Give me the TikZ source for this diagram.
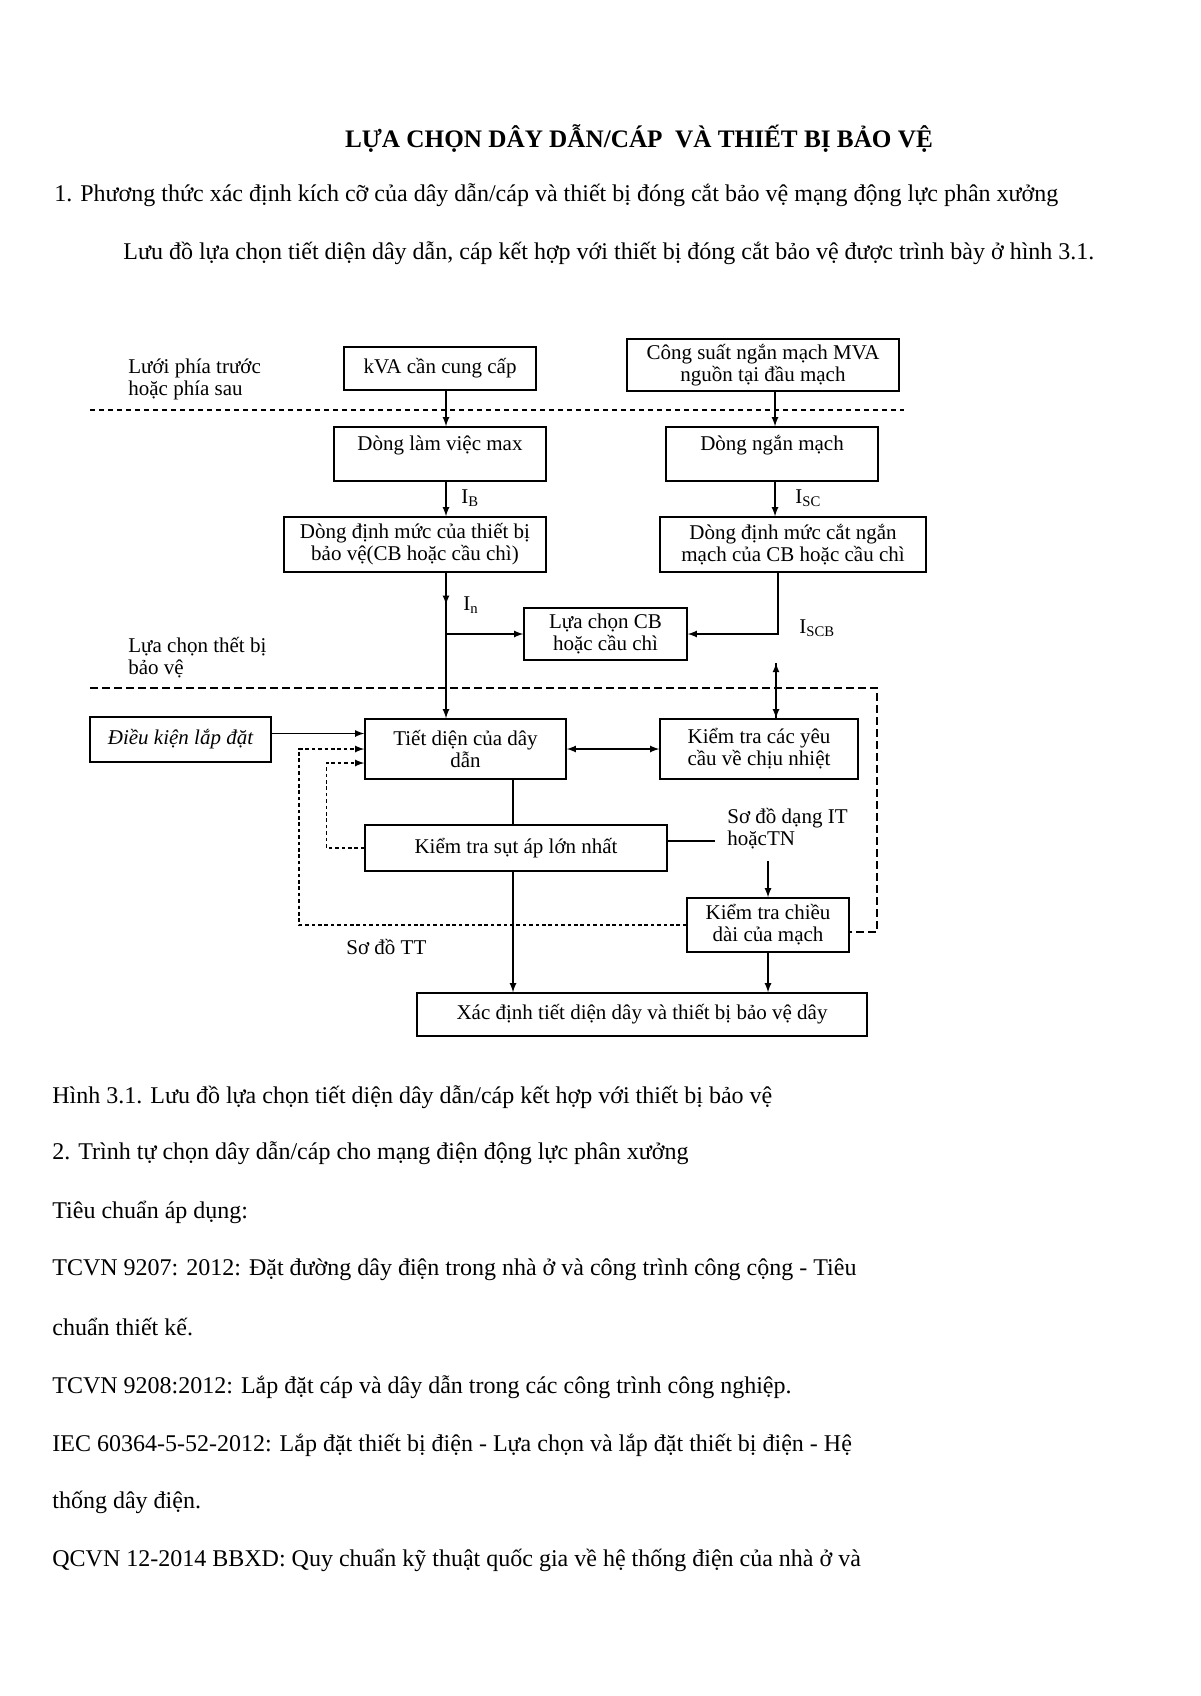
\documentclass[tikz,border=0pt]{standalone}
\usepackage{fontspec}
\setmainfont{Liberation Serif}
\usetikzlibrary{arrows, positioning}
\newcommand\diagfont{\fontsize{10.5}{11}\selectfont}
\newcommand\parafont{\fontsize{12}{14}\selectfont}

\begin{document}
\begin{tikzpicture}[x=0.5pt, y=-0.5pt,
    box/.style={draw, line width=0.7pt, rectangle, align=center, inner sep=0pt, font=\diagfont},
    lbl/.style={anchor=west, align=left, inner sep=0pt, font=\diagfont},
    para/.style={anchor=west, inner sep=0pt, font=\parafont},
    arrow/.style={line width=0.6pt, ->, >=latex},
    both/.style={line width=0.6pt, <->, >=latex},
    sepline/.style={line width=0.6pt, dash pattern=on 2.5pt off 2pt},
    sepwide/.style={line width=0.6pt, dash pattern=on 4pt off 2pt},
    loopline/.style={line width=0.6pt, dash pattern=on 1.8pt off 1.4pt, ->, >=latex}
]
\fill[white] (0,0) rectangle (1200,1696);
\useasboundingbox (0,0) rectangle (1200,1696);

% page text
\node[para, font=\fontsize{12.6}{14}\selectfont\bfseries, anchor=center] (title) at (639,139) {LỰA CHỌN DÂY DẪN/CÁP\ \ VÀ THIẾT BỊ BẢO VỆ};
\node[para] (sec1) at (54,195) {1. Phương thức xác định kích cỡ của dây dẫn/cáp và thiết bị đóng cắt bảo vệ mạng động lực phân xưởng};
\node[para] (intro) at (123,253) {Lưu đồ lựa chọn tiết diện dây dẫn, cáp kết hợp với thiết bị đóng cắt bảo vệ được trình bày ở hình 3.1.};

% column positions of the connectors
\coordinate (colA) at (446,0);
\coordinate (colB) at (775,0);
\coordinate (colC) at (778,0);
\coordinate (colD) at (513,0);
\coordinate (outer) at (299,0);

% boxes
\node[box, minimum width=96pt, minimum height=21.5pt] (kva) at (440,368.5) {kVA cần cung cấp};
\node[box, minimum width=136pt, minimum height=26pt] (mva) at (763,365) {Công suất ngắn mạch MVA\\nguồn tại đầu mạch};
\node[box, minimum width=106pt, minimum height=27pt] (ib) at (440,454) {Dòng làm việc max\\~};
\node[box, minimum width=106pt, minimum height=27pt] (isc) at (772,454) {Dòng ngắn mạch\\~};
\node[box, minimum width=131pt, minimum height=27.5pt] (dm) at (415,544.5) {Dòng định mức của thiết bị\\bảo vệ(CB hoặc cầu chì)};
\node[box, minimum width=133pt, minimum height=27.5pt] (dmc) at (793,544.5) {Dòng định mức cắt ngắn\\mạch của CB hoặc cầu chì};
\node[box, minimum width=81.5pt, minimum height=26pt] (cb) at (605.5,634) {Lựa chọn CB\\hoặc cầu chì};
\node[box, minimum width=90.5pt, minimum height=22.5pt, font=\diagfont\itshape] (dk) at (180.5,739.5) {Điều kiện lắp đặt};
\node[box, minimum width=100.5pt, minimum height=30pt] (td) at (465.5,749) {Tiết diện của dây\\dẫn};
\node[box, minimum width=99pt, minimum height=30pt] (nhiet) at (759,749) {Kiểm tra các yêu\\cầu về chịu nhiệt};
\node[box, minimum width=151pt, minimum height=23pt] (sa) at (516,848) {Kiểm tra sụt áp lớn nhất};
\node[box, minimum width=81pt, minimum height=27pt] (cd) at (768,925) {Kiểm tra chiều\\dài của mạch};
\node[box, minimum width=225pt, minimum height=21.5pt] (xd) at (642,1014.5) {Xác định tiết diện dây và thiết bị bảo vệ dây};

% labels
\node[lbl] (grid) at (128,379) {Lưới phía trước\\hoặc phía sau};
\node[lbl] (prot) at (128,657.5) {Lựa chọn thết bị\\bảo vệ};
\node[lbl] (lib) at (461,498) {I\textsubscript{B}};
\node[lbl] (lisc) at (795,498) {I\textsubscript{SC}};
\node[lbl] (lin) at (463,605) {I\textsubscript{n}};
\node[lbl] (liscb) at (799,628) {I\textsubscript{SCB}};
\node[lbl] (itlab) at (727,828.5) {Sơ đồ dạng IT\\hoặcTN};
\node[lbl] (ttlab) at (346,947) {Sơ đồ TT};

% dashed separators
\coordinate (sepAw) at (90,410);
\coordinate (sepAe) at (904,410);
\coordinate (sepBw) at (90,688);
\coordinate (sepBe) at (877,688);
\draw[sepline] (sepAw) -- (sepAe);
\draw[sepwide] (sepBw) -- (sepBe) |- ([yshift=-3.5pt]cd.east);

% connectors
\draw[arrow] (kva.south -| colA) -- (ib.north -| colA);
\draw[arrow] (ib.south -| colA) -- (dm.north -| colA);
\draw[arrow] (dm.south -| colA) -- ++(0,32);
\draw[arrow] (dm.south -| colA) -- (td.north -| colA);
\draw[arrow] (cb.west -| colA) -- (cb.west);
\draw[arrow] (mva.south -| colB) -- (isc.north -| colB);
\draw[arrow] (isc.south -| colB) -- (dmc.north -| colB);
\draw[arrow] (dmc.south -| colC) |- (cb.east);
\coordinate (chk) at (776,663);
\draw[arrow] (chk) -- (chk |- nhiet.north);
\draw[arrow] (chk |- nhiet.north) -- (chk);
\draw[arrow] ([yshift=3pt]dk.east) -- ([yshift=3pt]dk.east -| td.west);
\draw[both] (td.east) -- (nhiet.west);
\draw[line width=0.6pt] (td.south -| colD) -- (sa.north -| colD);
\draw[arrow] (sa.south -| colD) -- (xd.north -| colD);
\draw[line width=0.6pt, shorten >=6pt] ([yshift=3.5pt]sa.east) -- ([yshift=3.5pt]sa.east -| itlab.west);
\draw[arrow, shorten <=6pt] (itlab.south -| cd.north) -- (cd.north);
\draw[arrow] (cd.south) -- (cd.south |- xd.north);
\draw[loopline] (sa.west) -- ++(-38,0) |- ([yshift=-7pt]td.west);
\draw[loopline] (cd.west) -- (cd.west -| outer) |- (td.west);

% text under the figure
\node[para] (caption) at (52,1097) {Hình 3.1. Lưu đồ lựa chọn tiết diện dây dẫn/cáp kết hợp với thiết bị bảo vệ};
\node[para] (sec2) at (52,1153) {2. Trình tự chọn dây dẫn/cáp cho mạng điện động lực phân xưởng};
\node[para] (std) at (52,1212) {Tiêu chuẩn áp dụng:};
\node[para] (tcvnA) at (52,1270) {TCVN 9207: 2012: Đặt đường dây điện trong nhà ở và công trình công cộng - Tiêu};
\node[para] (tcvnAb) at (52,1327) {chuẩn thiết kế.};
\node[para] (tcvnB) at (52,1387) {TCVN 9208:2012: Lắp đặt cáp và dây dẫn trong các công trình công nghiệp.};
\node[para] (iec) at (52,1445) {IEC 60364-5-52-2012: Lắp đặt thiết bị điện - Lựa chọn và lắp đặt thiết bị điện - Hệ};
\node[para] (iecb) at (52,1502) {thống dây điện.};
\node[para] (qcvn) at (52,1560) {QCVN 12-2014 BBXD: Quy chuẩn kỹ thuật quốc gia về hệ thống điện của nhà ở và};

\end{tikzpicture}
\end{document}
